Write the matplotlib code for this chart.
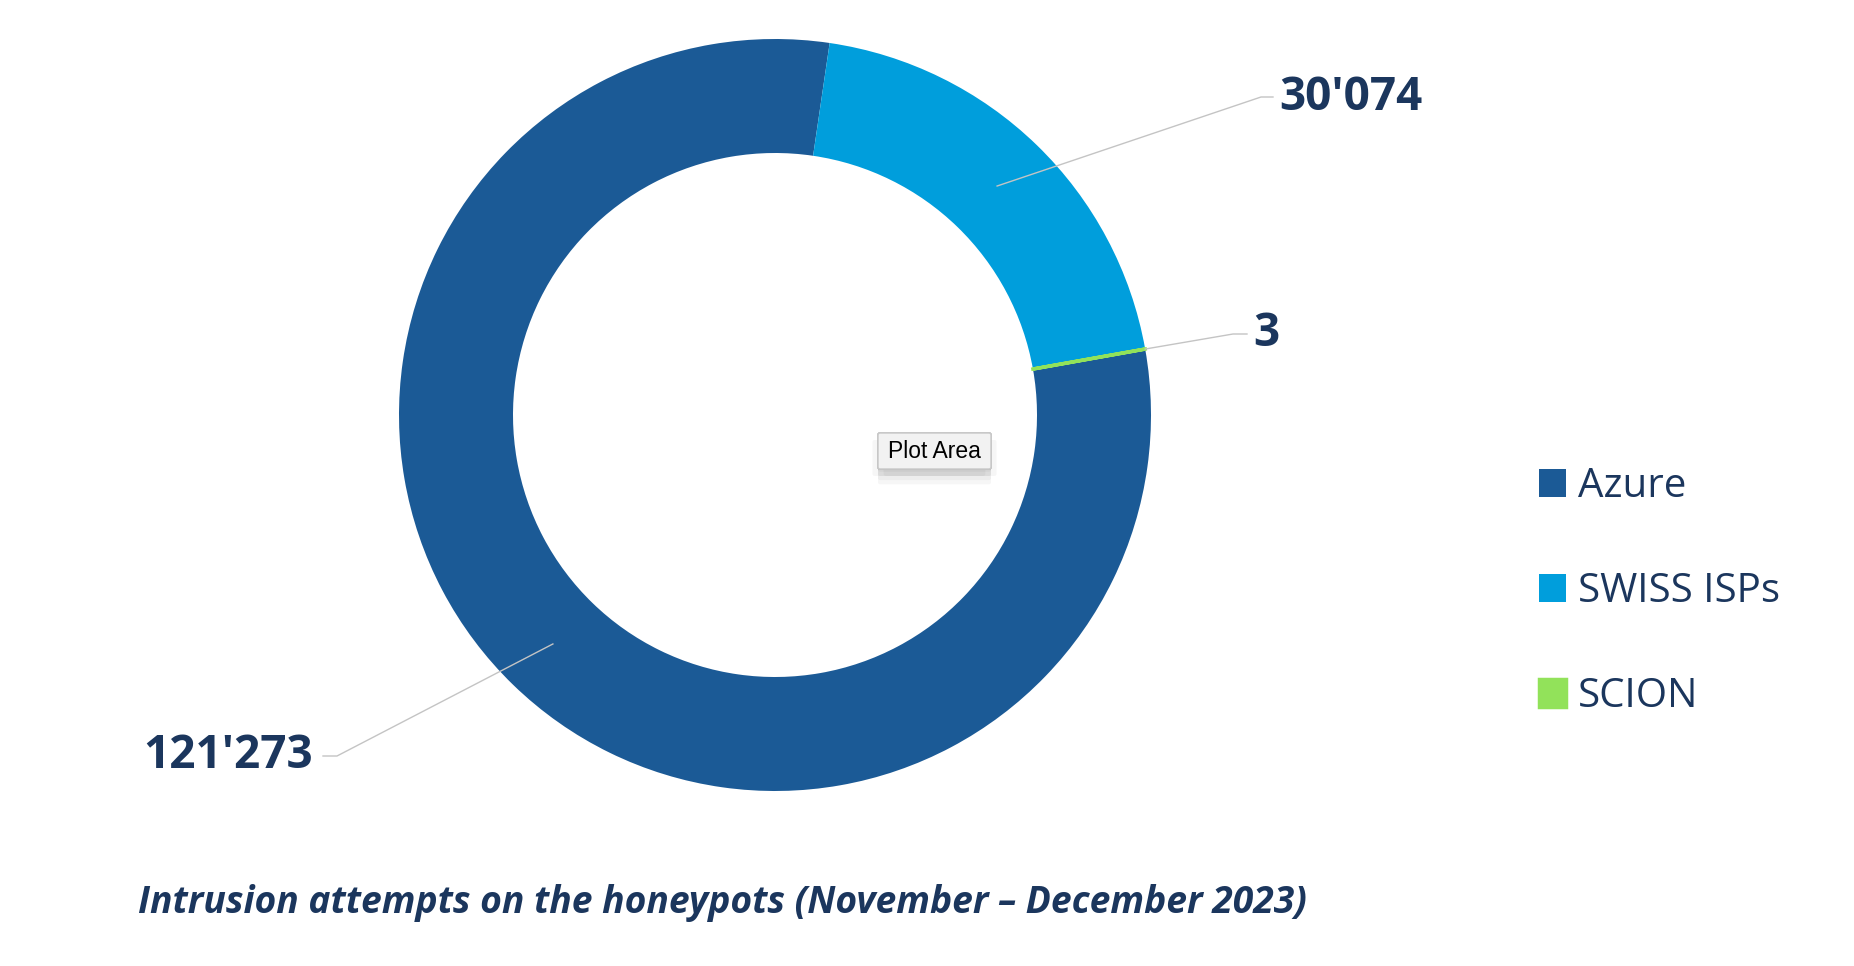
import numpy as np
import matplotlib
matplotlib.use("Agg")
import matplotlib.pyplot as plt
from matplotlib.patches import FancyBboxPatch
import matplotlib.patheffects as pe

plt.rcParams['font.family'] = ['Open Sans', 'DejaVu Sans']

# data
sources = ['Azure', 'SWISS ISPs', 'SCION']
attempts = [121273, 30074, 3]
value_labels = ["121'273", "30'074", "3"]
colors = ['#1B5A96', '#009EDC', '#92E25A']
title = 'Intrusion attempts on the honeypots (November \u2013 December 2023)'
navy = '#1B365D'

W, H = 1854, 966
fig = plt.figure(figsize=(W / 100, H / 100), dpi=100)
ax = fig.add_axes([0, 0, 1, 1])

# donut geometry in pixel units (y up)
cx, cy = 775, H - 415
R = 376
ring = 114

# Azure starts ~80 deg clockwise from 12 o'clock
start = 10.1
wedges, _ = ax.pie(attempts, colors=colors, startangle=start, counterclock=False,
                   radius=R, center=(cx, cy),
                   wedgeprops=dict(width=ring, linewidth=0))
# the tiny SCION slice is drawn as a thin green edge like in Excel
wedges[2].set_edgecolor(colors[2])
wedges[2].set_linewidth(2.5)

ax.set_xlim(0, W)
ax.set_ylim(0, H)
ax.set_aspect('auto')
ax.axis('off')

# leader lines + data labels
label_pos = [(323, H - 756, 'right'), (1273, H - 97, 'left'), (1247, H - 334, 'left')]
elbow = [(337, H - 756), (1261, H - 97), (1233, H - 334)]
for i, w in enumerate(wedges):
    mid = np.deg2rad((w.theta1 + w.theta2) / 2)
    r0 = R - ring / 2 if i != 2 else R
    x0, y0 = cx + r0 * np.cos(mid), cy + r0 * np.sin(mid)
    ex, ey = elbow[i]
    lx, ly, ha = label_pos[i]
    ax.plot([x0, ex, lx], [y0, ey, ly], color='#C4C4C4', lw=1.0, zorder=3)
    tx = lx - 10 if ha == 'right' else lx + 6
    ax.text(tx, ly, value_labels[i], ha=ha, va='center', fontsize=33,
            fontweight='bold', color=navy)

# legend
leg = ax.legend(wedges, sources, loc='center left',
                bbox_to_anchor=(1539 / W, (H - 592) / H), bbox_transform=fig.transFigure,
                frameon=False, fontsize=29, handlelength=0.67, handleheight=0.67,
                handletextpad=0.3, labelspacing=1.6, borderpad=0, borderaxespad=0)
for t in leg.get_texts():
    t.set_color(navy)

# caption
ax.text(138, H - 903, title, ha='left', va='center', fontsize=26.8,
        fontweight='bold', fontstyle='italic', color=navy)

# "Plot Area" tooltip
shadow = [pe.withSimplePatchShadow(offset=(dx, dy), shadow_rgbFace='k', alpha=0.035)
          for dx, dy in [(0, -2), (0, -5), (0, -8), (-4, -5), (4, -5), (0, -11)]]
box = FancyBboxPatch((878, H - 469), 113, 36, boxstyle='round,pad=0,rounding_size=2',
                     facecolor='#F2F2F2', edgecolor='#C8C8C8', lw=1, zorder=5)
box.set_path_effects(shadow)
ax.add_patch(box)
ax.text(934.5, H - 451, 'Plot Area', ha='center', va='center', fontsize=16.5,
        family=['Liberation Sans', 'DejaVu Sans'], color='black', zorder=6)

fig.savefig('out.png', dpi=100)
